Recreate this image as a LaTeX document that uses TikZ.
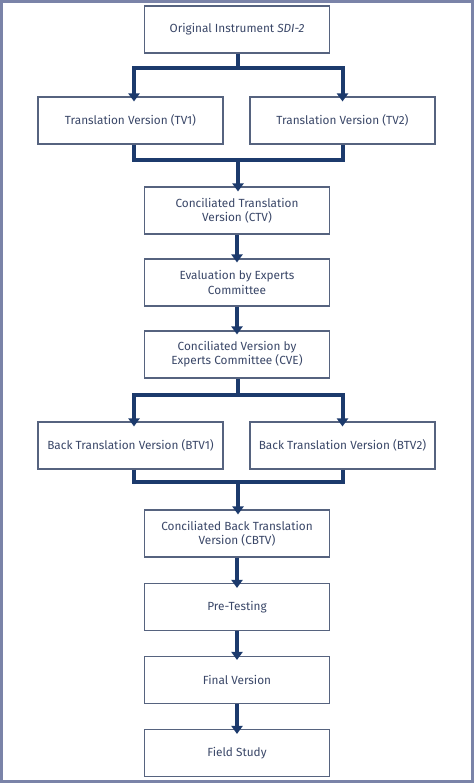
\documentclass[tikz,border=0pt]{standalone}
\usepackage{fontspec}
\setmainfont{Fira Sans}
\usetikzlibrary{arrows.meta}
\definecolor{framecol}{HTML}{7A83A8}
\definecolor{boxcol}{HTML}{56637F}
\definecolor{arrcol}{HTML}{1C3A6C}
\definecolor{txtcol}{HTML}{3A4768}
\begin{document}
\begin{tikzpicture}[x=1pt,y=-1pt,
  stepbox/.style={draw=boxcol,line width=1.1pt,fill=white,minimum width=185pt,minimum height=47pt,
    align=center,text=txtcol,font=\fontsize{11.8}{14.2}\selectfont,inner sep=2pt},
  conn/.style={draw=arrcol,line width=4pt},
  flow/.style={conn,-{Triangle[width=11pt,length=8pt]}}]
\useasboundingbox (0,0) rectangle (474,783);
\fill[white] (0,0) rectangle (474,783);
\draw[framecol,line width=3pt] (1.5,1.5) rectangle (472.5,781.5);

\node[stepbox] (orig) at (237,29.5) {Original Instrument \textit{SDI-2}};
\node[stepbox] (tv1) at (130.5,120.5) {Translation Version (TV1)};
\node[stepbox] (tv2) at (342.5,120.5) {Translation Version (TV2)};
\node[stepbox] (ctv) at (237,210.5) {Conciliated Translation\\Version (CTV)};
\node[stepbox] (eval) at (237,282.5) {Evaluation by Experts\\Committee};
\node[stepbox] (cve) at (237,354.5) {Conciliated Version by\\Experts Committee (CVE)};
\node[stepbox] (btv1) at (130.5,445.5) {Back Translation Version (BTV1)};
\node[stepbox] (btv2) at (342.5,445.5) {Back Translation Version (BTV2)};
\node[stepbox] (cbtv) at (237,533.5) {Conciliated Back Translation\\Version (CBTV)};
\node[stepbox] (pre) at (237,607) {Pre-Testing};
\node[stepbox] (final) at (237,680) {Final Version};
\node[stepbox] (field) at (237,753) {Field Study};

\coordinate (s1) at (238,68);
\coordinate (m1) at (238,160);
\coordinate (s2) at (238,395);
\coordinate (m2) at (238,482);

\draw[conn] (orig.south -| s1) -- (s1);
\draw[flow] (s1) -| ([xshift=3.5pt,yshift=-5pt]tv1.north);
\draw[flow] (s1) -| ([yshift=-5pt]tv2.north);
\draw[conn,line join=miter] ([xshift=3.5pt]tv1.south) |- (m1) -| (tv2.south);
\draw[flow] (m1) -- ([yshift=-5pt]ctv.north -| m1);
\draw[flow] (ctv.south) -- ([yshift=-4pt]eval.north);
\draw[flow] (eval.south) -- ([yshift=-4pt]cve.north);
\draw[conn] (cve.south -| s2) -- (s2);
\draw[flow] (s2) -| ([xshift=3.5pt,yshift=-5pt]btv1.north);
\draw[flow] (s2) -| ([yshift=-5pt]btv2.north);
\draw[conn,line join=miter] ([xshift=3.5pt]btv1.south) |- (m2) -| (btv2.south);
\draw[flow] (m2) -- ([yshift=-5pt]cbtv.north -| m2);
\draw[flow] (cbtv.south) -- ([yshift=-5pt]pre.north);
\draw[flow] (pre.south) -- ([yshift=-4pt]final.north);
\draw[flow] (final.south) -- ([yshift=-5pt]field.north);
\end{tikzpicture}
\end{document}
